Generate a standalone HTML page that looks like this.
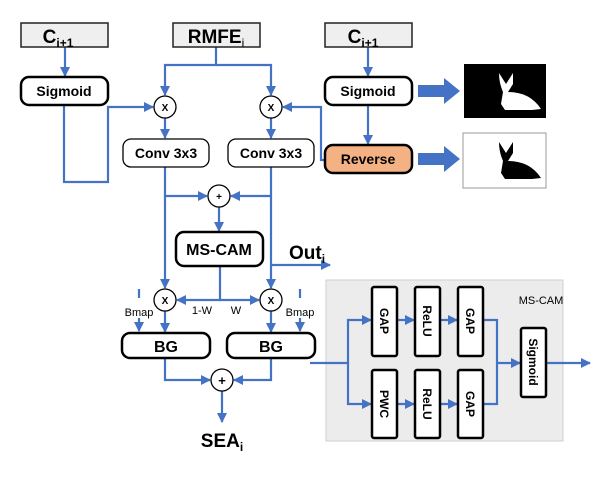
<!DOCTYPE html>
<html><head><style>body{margin:0;background:#fff}svg{display:block}text{font-family:"Liberation Sans",sans-serif;font-weight:bold;fill:#000}</style></head><body>
<svg width="600" height="479" viewBox="0 0 600 479" xmlns="http://www.w3.org/2000/svg">
<defs><marker id="a" viewBox="0 0 10 10" refX="9" refY="5" markerWidth="4.6" markerHeight="4.6" orient="auto"><path d="M0,0L10,5L0,10z" fill="#4472c4"/></marker></defs>
<g stroke="#4472c4" stroke-width="2.2" fill="none" marker-end="url(#a)">
<path d="M65 47V76"/><path d="M368 47V76"/>
<path d="M216 47V65H165V95"/><path d="M216 65H271V95"/>
<path d="M64 105V182H108V107H153"/>
<path d="M325 160H321V107H283"/>
<path d="M368 105V144"/>
<path d="M165 118V138"/><path d="M271 118V138"/>
<path d="M165 167V196H207"/><path d="M271 167V196H231"/>
<path d="M219 207V231"/>
<path d="M165 196V288"/><path d="M271 196V288"/>
<path d="M271 265H330"/>
<path d="M220 266V300H177"/><path d="M220 300H259"/>
<path d="M165 311V332"/><path d="M271 311V332"/>
<path d="M139 318V331" /><path d="M300 318V331"/>
<path d="M165 358V380H210"/><path d="M271 358V380H234"/>
<path d="M222 391V422"/>
</g>
<g stroke="#4472c4" stroke-width="2.2"><path d="M139 289V298M300 289V298"/></g>
<rect x="326" y="280" width="237" height="161" fill="#ececec" stroke="#cfcfcf"/>
<g stroke="#4472c4" stroke-width="2.2" fill="none" marker-end="url(#a)">
<path d="M310 363H348V320H371"/><path d="M348 363V404H371"/>
<path d="M387 320H414"/><path d="M440 320H457"/>
<path d="M387 404H414"/><path d="M440 404H457"/>
<path d="M497 363H520"/>
<path d="M546 363H590"/>
</g>
<path d="M483 320H497V404H483" stroke="#4472c4" stroke-width="2.2" fill="none"/>
<g fill="#4472c4"><path d="M418 85H444V78L460 91L444 104V97H418z"/><path d="M418 153H444V146L460 159L444 172V165H418z"/></g>
<g stroke="#222" stroke-width="1.5" fill="#efefef"><rect x="21" y="23" width="87" height="24"/><rect x="173" y="23" width="87" height="24"/><rect x="325" y="23" width="87" height="24"/></g>
<g stroke="#000" stroke-width="2.5" fill="#fff"><rect x="21" y="77" width="87" height="28" rx="8"/><rect x="325" y="77" width="87" height="28" rx="8"/><rect x="325" y="145" width="87" height="28" rx="8" fill="#f4b183"/><rect x="176" y="232" width="87" height="34" rx="8"/><rect x="122" y="333" width="88" height="25" rx="8"/><rect x="227" y="333" width="88" height="25" rx="8"/>
<rect x="372" y="287" width="25" height="69" rx="2"/><rect x="415" y="287" width="25" height="69" rx="2"/><rect x="458" y="287" width="25" height="69" rx="2"/>
<rect x="372" y="370" width="25" height="68" rx="2"/><rect x="415" y="370" width="25" height="68" rx="2"/><rect x="458" y="370" width="25" height="68" rx="2"/><rect x="521" y="328" width="25" height="69" rx="2"/></g>
<g stroke="#000" stroke-width="1.3" fill="#fff"><rect x="123" y="139" width="86" height="28" rx="8"/><rect x="228" y="139" width="86" height="28" rx="8"/>
<circle cx="165" cy="107" r="11"/><circle cx="271" cy="107" r="11"/><circle cx="219" cy="196" r="11"/><circle cx="165" cy="300" r="11"/><circle cx="271" cy="300" r="11"/><circle cx="222" cy="380" r="11"/></g>
<rect x="464" y="64" width="82" height="54" fill="#000"/>
<rect x="463" y="133" width="83" height="55" fill="#fff" stroke="#999"/>
<path d="M499 73L506 84L513 73L513 84L508 92Q530 92 541 109L532 110L505 110L501 104L503 92Q499 83 499 73z" fill="#fff"/>
<path d="M499 142L506 153L513 142L513 153L508 161Q530 161 541 178L532 179L505 179L501 173L503 161Q499 152 499 142z" fill="#000"/>
<g font-size="19" text-anchor="middle"><text x="58" y="43">C<tspan font-size="12" dy="4">i+1</tspan></text><text x="216" y="43">RMFE<tspan font-size="12" dy="4" font-weight="normal">i</tspan></text><text x="363" y="43">C<tspan font-size="12" dy="4">i+1</tspan></text></g>
<g font-size="14" text-anchor="middle"><text x="64" y="96">Sigmoid</text><text x="368" y="96">Sigmoid</text><text x="368" y="164">Reverse</text><text x="166" y="158">Conv 3x3</text><text x="271" y="158">Conv 3x3</text><text x="219" y="255" font-size="16">MS-CAM</text><text x="166" y="352" font-size="16">BG</text><text x="271" y="352" font-size="16">BG</text></g>
<g font-size="10" text-anchor="middle"><text x="165" y="111">X</text><text x="271" y="111">X</text><text x="219" y="200">+</text><text x="165" y="304">X</text><text x="271" y="304">X</text><text x="222" y="385" font-size="13">+</text></g>
<text x="289" y="259" font-size="19">Out<tspan font-size="12" dy="4">i</tspan></text>
<text x="222" y="447" font-size="19" text-anchor="middle">SEA<tspan font-size="12" dy="4">i</tspan></text>
<g font-size="11" text-anchor="middle"><text x="139" y="316" style="font-weight:normal">Bmap</text><text x="300" y="316" style="font-weight:normal">Bmap</text><text x="202" y="314" style="font-weight:normal">1-W</text><text x="236" y="314" style="font-weight:normal">W</text><text x="541" y="304" style="font-weight:normal">MS-CAM</text></g>
<g font-size="12" text-anchor="middle">
<text transform="translate(384,321) rotate(90)" dy="4">GAP</text><text transform="translate(427,321) rotate(90)" dy="4">ReLU</text><text transform="translate(470,321) rotate(90)" dy="4">GAP</text>
<text transform="translate(384,404) rotate(90)" dy="4">PWC</text><text transform="translate(427,404) rotate(90)" dy="4">ReLU</text><text transform="translate(470,404) rotate(90)" dy="4">GAP</text>
<text transform="translate(533,362) rotate(90)" dy="4">Sigmoid</text></g>
</svg></body></html>
